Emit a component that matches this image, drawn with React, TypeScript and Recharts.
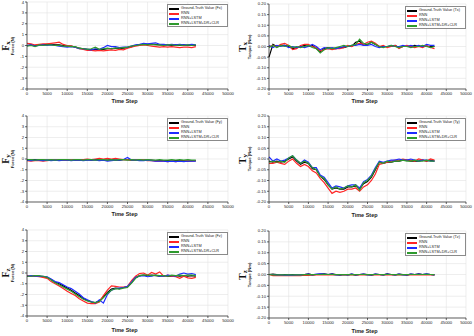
import React from 'react';
import { LineChart, Line, XAxis, YAxis, CartesianGrid } from 'recharts';

const STEPS = [
  0, 1000, 2000, 3000, 4000, 5000, 6000, 7000, 8000, 9000,
  10000, 11000, 12000, 13000, 14000, 15000, 16000, 17000, 18000, 19000,
  20000, 21000, 22000, 23000, 24000, 25000, 26000, 27000, 28000, 29000,
  30000, 31000, 32000, 33000, 34000, 35000, 36000, 37000, 38000, 39000,
  40000, 41000, 42000,
];

const X_TICKS = [0, 5000, 10000, 15000, 20000, 25000, 30000, 35000, 40000, 45000, 50000];
const FORCE_TICKS = [-4, -3, -2, -1, 0, 1, 2, 3, 4];
const TORQUE_TICKS = [-0.2, -0.15, -0.1, -0.05, 0, 0.05, 0.1, 0.15, 0.2];

const SERIES_KEYS = ['gt', 'rnn', 'lstm', 'full'];
const SERIES_NAMES = ['Ground-Truth Value', 'RNN', 'RNN+LSTM', 'RNN+LSTM+DR+CLR'];
const COLORS = ['#000000', '#ff2626', '#1f2cff', '#2e9a2e'];

// Fx (N)
const FX_GT = [
  0, 0.05, 0, 0.05, 0.05, 0.1, 0.1, 0.05, 0.05, 0,
  -0.05, -0.05, -0.15, -0.25, -0.3, -0.35, -0.4, -0.35, -0.4, -0.35,
  -0.3, -0.3, -0.25, -0.3, -0.25, -0.2, -0.1, 0, 0.05, 0.1,
  0.1, 0.1, 0.1, 0.05, 0.05, 0.05, 0, 0.05, 0, 0.05,
  0, 0.05, 0,
];
const FX_RNN = [
  0.2, 0.15, 0.05, 0.1, 0.15, 0.15, 0.2, 0.25, 0.3, 0.1,
  0, -0.05, -0.15, -0.3, -0.35, -0.45, -0.45, -0.5, -0.45, -0.5,
  -0.45, -0.4, -0.45, -0.35, -0.4, -0.25, -0.15, -0.05, 0, 0.05,
  0, -0.05, -0.1, -0.15, -0.1, -0.15, -0.1, -0.15, -0.2, -0.15,
  -0.15, -0.2, -0.1,
];
const FX_LSTM = [
  0, 0.05, -0.05, 0, 0.05, 0, 0.05, 0, -0.05, -0.1,
  -0.15, -0.1, -0.15, -0.3, -0.3, -0.35, -0.4, -0.3, -0.35, -0.2,
  0, -0.1, -0.1, -0.2, -0.15, -0.15, -0.05, 0.05, 0.1, 0.2,
  0.15, 0.2, 0.25, 0.1, 0.1, 0.05, 0.1, 0.05, 0.1, 0.05,
  0.05, 0.1, 0.05,
];
const FX_FULL = [
  -0.05, 0, -0.1, 0.05, 0, 0.05, 0.05, 0, 0, -0.05,
  -0.05, -0.1, -0.1, -0.25, -0.3, -0.35, -0.3, -0.15, -0.35, -0.3,
  -0.25, -0.3, -0.25, -0.25, -0.2, -0.15, -0.05, 0, 0.05, 0.1,
  0.05, 0.1, 0.05, 0.05, 0, 0.05, 0.05, 0, 0.05, 0,
  0.05, 0, 0.05,
];

// Tx (Nm)
const TX_GT = [
  -0.05, 0.01, 0, 0.005, 0.005, 0, -0.01, -0.005, 0, 0.005,
  0, 0.005, -0.01, -0.025, -0.01, -0.005, -0.01, -0.01, -0.005, -0.005,
  0, 0, 0.02, 0.025, 0.005, 0.01, 0.02, 0.01, 0, 0,
  0, 0, 0.005, -0.005, 0, 0, 0, 0.005, 0, 0,
  0, 0, 0,
];
const TX_RNN = [
  0, 0.005, 0, 0.01, 0.015, 0.005, -0.015, -0.01, 0.005, 0.01,
  0.01, 0, -0.005, -0.02, -0.015, -0.01, -0.015, -0.01, -0.01, -0.005,
  0.005, 0, 0.01, 0.015, 0.01, 0.02, 0.025, 0.015, 0, 0.005,
  -0.005, 0, 0.005, -0.01, 0, 0.005, 0, -0.005, 0, -0.005,
  0.005, -0.005, -0.01,
];
const TX_LSTM = [
  0.005, -0.005, 0.005, 0, 0.005, -0.005, 0, -0.005, 0, -0.005,
  0, 0.01, 0, -0.015, -0.005, -0.01, -0.005, -0.01, -0.005, 0,
  0, 0.005, 0.005, 0.01, 0.005, 0.005, 0.01, 0, -0.005, 0,
  0, 0.005, 0, 0, 0.005, 0, 0.005, 0, 0.005, 0,
  0.01, 0.005, 0.005,
];
const TX_FULL = [
  -0.005, 0.005, -0.005, 0.005, 0, 0.005, -0.005, 0, -0.005, 0,
  0.005, -0.005, -0.01, -0.03, -0.015, -0.005, -0.01, -0.005, 0, 0.005,
  0, 0.005, 0.01, 0.035, 0.015, 0.01, 0.02, 0.01, 0, -0.005,
  0, 0.005, 0, -0.005, 0, 0, -0.005, 0, 0, 0.005,
  0, -0.005, 0,
];

// Fy (N)
const FY_GT = [
  -0.1, -0.1, -0.05, -0.1, -0.1, -0.1, -0.1, -0.1, -0.1, -0.05,
  -0.1, -0.1, -0.1, -0.1, -0.1, -0.05, -0.1, -0.05, -0.05, -0.1,
  -0.1, -0.05, -0.1, -0.1, -0.05, -0.05, -0.1, -0.1, -0.1, -0.1,
  -0.1, -0.1, -0.15, -0.15, -0.15, -0.15, -0.2, -0.15, -0.15, -0.15,
  -0.2, -0.15, -0.15,
];
const FY_RNN = [
  -0.15, -0.2, -0.15, -0.15, -0.2, -0.15, -0.1, -0.1, -0.1, -0.1,
  -0.1, -0.1, -0.05, -0.05, -0.05, 0, -0.05, 0, 0.05, 0,
  0.05, 0, 0.05, 0, -0.05, -0.05, -0.1, -0.1, -0.1, -0.1,
  -0.15, -0.15, -0.2, -0.2, -0.2, -0.25, -0.2, -0.25, -0.2, -0.2,
  -0.15, -0.2, -0.15,
];
const FY_LSTM = [
  -0.1, -0.15, -0.1, -0.1, -0.15, -0.1, -0.15, -0.1, -0.15, -0.1,
  -0.1, -0.15, -0.1, -0.1, -0.15, -0.1, -0.1, -0.1, -0.15, -0.1,
  -0.2, -0.15, -0.1, -0.1, -0.05, 0.15, -0.1, -0.1, -0.15, -0.15,
  -0.1, -0.15, -0.2, -0.2, -0.2, -0.25, -0.2, -0.25, -0.2, -0.25,
  -0.2, -0.2, -0.2,
];
const FY_FULL = [
  -0.05, -0.05, -0.1, -0.05, -0.05, -0.1, -0.05, -0.1, -0.05, -0.05,
  -0.05, -0.1, -0.05, -0.05, -0.1, -0.05, -0.05, -0.1, -0.05, -0.05,
  -0.1, -0.05, -0.1, -0.05, -0.05, -0.1, -0.05, -0.1, -0.05, -0.1,
  -0.05, -0.1, -0.1, -0.05, -0.1, -0.1, -0.05, -0.1, -0.05, -0.1,
  -0.05, -0.1, -0.1,
];

// Ty (Nm)
const TY_GT = [
  -0.01, -0.015, -0.01, -0.015, -0.01, 0, 0.01, -0.01, -0.025, -0.015,
  -0.02, -0.045, -0.05, -0.08, -0.095, -0.12, -0.14, -0.135, -0.14, -0.14,
  -0.13, -0.13, -0.125, -0.14, -0.115, -0.105, -0.085, -0.05, -0.015, -0.02,
  -0.015, -0.015, -0.01, -0.01, -0.005, -0.005, -0.01, -0.01, -0.01, -0.005,
  -0.01, -0.005, -0.01,
];
const TY_RNN = [
  -0.02, -0.02, -0.015, -0.02, -0.025, -0.01, 0, -0.02, -0.035, -0.025,
  -0.035, -0.055, -0.065, -0.09, -0.11, -0.135, -0.16, -0.15, -0.155, -0.15,
  -0.14, -0.14, -0.135, -0.15, -0.13, -0.12, -0.1, -0.07, -0.025, -0.02,
  -0.015, -0.01, -0.005, -0.005, 0, -0.005, -0.005, -0.01, 0, -0.005,
  -0.01, 0, -0.005,
];
const TY_LSTM = [
  0.01, -0.01, 0, -0.01, -0.005, 0.005, 0.015, -0.005, -0.02, -0.005,
  -0.015, -0.04, -0.04, -0.075, -0.085, -0.11, -0.135, -0.125, -0.13, -0.135,
  -0.125, -0.12, -0.12, -0.135, -0.105, -0.095, -0.075, -0.04, -0.01, -0.015,
  -0.01, -0.005, -0.005, 0, -0.005, -0.005, 0, -0.005, -0.01, -0.005,
  -0.005, -0.01, -0.01,
];
const TY_FULL = [
  -0.015, -0.01, -0.015, -0.01, -0.015, 0.005, 0.015, -0.005, -0.02, -0.01,
  -0.02, -0.04, -0.05, -0.08, -0.09, -0.12, -0.14, -0.13, -0.14, -0.135,
  -0.125, -0.13, -0.12, -0.145, -0.11, -0.1, -0.08, -0.045, -0.015, -0.02,
  -0.01, -0.015, -0.01, -0.01, -0.005, -0.01, -0.01, -0.005, -0.01, -0.01,
  -0.005, -0.01, -0.01,
];

// Fz (N)
const FZ_GT = [
  -0.3, -0.3, -0.25, -0.3, -0.35, -0.4, -0.6, -0.85, -1, -1.2,
  -1.4, -1.6, -1.85, -2.1, -2.35, -2.55, -2.7, -2.75, -2.6, -2.2,
  -1.8, -1.5, -1.4, -1.45, -1.35, -1.3, -0.9, -0.45, -0.25, -0.2,
  -0.25, -0.2, -0.25, -0.3, -0.25, -0.3, -0.3, -0.25, -0.3, -0.25,
  -0.3, -0.25, -0.3,
];
const FZ_RNN = [
  -0.25, -0.3, -0.3, -0.35, -0.4, -0.5, -0.8, -1, -1.2, -1.45,
  -1.7, -1.9, -2.1, -2.4, -2.6, -2.8, -2.85, -2.85, -2.7, -2.1,
  -1.6, -1.2, -1.25, -1.3, -1.3, -1.25, -0.7, -0.3, -0.05, 0,
  -0.2, 0.05, -0.1, 0.1, -0.3, -0.2, -0.3, -0.35, -0.5, -0.3,
  -0.45, -0.5, -0.4,
];
const FZ_LSTM = [
  -0.3, -0.25, -0.3, -0.3, -0.3, -0.35, -0.55, -0.8, -0.9, -1.1,
  -1.3, -1.45, -1.7, -1.95, -2.3, -2.5, -2.65, -2.8, -2.5, -2.8,
  -2, -1.6, -1.45, -1.4, -1.35, -1.25, -0.85, -0.4, -0.3, -0.25,
  -0.35, -0.3, -0.2, -0.3, -0.3, -0.2, -0.25, -0.3, -0.1, 0,
  -0.1, -0.05, -0.15,
];
const FZ_FULL = [
  -0.3, -0.3, -0.25, -0.25, -0.3, -0.4, -0.65, -0.9, -1.1, -1.3,
  -1.5, -1.7, -1.95, -2.2, -2.45, -2.6, -2.7, -2.75, -2.65, -2.3,
  -1.9, -1.6, -1.45, -1.5, -1.4, -1.35, -0.95, -0.5, -0.25, -0.2,
  -0.2, -0.25, -0.2, -0.25, -0.25, -0.3, -0.2, -0.25, -0.2, -0.25,
  -0.2, -0.2, -0.25,
];

// Tz (Nm)
const TZ_GT = [
  0, 0.002, 0, -0.003, 0, -0.002, 0, -0.003, -0.002, 0,
  0.003, -0.002, 0, 0.002, 0.003, 0, 0.003, 0, -0.003, 0,
  -0.002, 0.002, -0.003, 0, 0.002, 0, -0.003, 0.002, 0, -0.002,
  0.003, 0, -0.002, 0.002, 0, -0.003, 0.002, 0, 0.003, 0,
  0.002, 0, -0.002,
];
const TZ_RNN = [
  0, -0.005, -0.005, -0.004, -0.005, -0.004, -0.005, -0.004, -0.005, -0.003,
  -0.004, -0.003, -0.002, -0.002, -0.002, -0.001, -0.002, -0.001, -0.002, -0.001,
  -0.002, -0.001, -0.002, -0.001, -0.002, -0.001, -0.002, -0.001, -0.002, -0.001,
  -0.002, -0.001, -0.002, -0.001, -0.002, -0.001, -0.002, -0.001, -0.002, -0.001,
  -0.002, -0.001, -0.002,
];
const TZ_LSTM = [
  0, 0, -0.002, -0.002, -0.003, -0.002, -0.003, -0.002, -0.002, 0,
  0.002, -0.002, 0.002, 0.003, 0.002, 0, 0.002, -0.002, -0.002, 0,
  -0.002, 0.002, -0.002, 0, 0.002, -0.002, -0.002, 0.002, 0, -0.002,
  0.002, 0, -0.002, 0.002, -0.002, -0.002, 0.002, 0, 0.002, 0,
  0.003, 0, -0.002,
];
const TZ_FULL = [
  0, -0.002, -0.002, -0.002, -0.002, -0.002, -0.002, -0.002, -0.002, -0.001,
  0, -0.001, 0, 0, 0.001, 0, 0, -0.001, -0.001, 0,
  -0.001, 0, -0.001, 0, 0, -0.001, -0.001, 0, 0, -0.001,
  0, 0, -0.001, 0, -0.001, -0.001, 0, 0, 0, 0,
  0.001, 0, -0.001,
];

const buildRows = (gt: number[], rnn: number[], lstm: number[], full: number[]) =>
  STEPS.map((step, i) => ({ step, gt: gt[i], rnn: rnn[i], lstm: lstm[i], full: full[i] }));

const SANS = "'Liberation Sans', Arial, sans-serif";
const SERIF = "'Liberation Serif', 'Times New Roman', serif";

const fmtForce = (v: number) => String(Math.round(v));
const fmtTorque = (v: number) => v.toFixed(2);

type PanelProps = {
  left: number;
  top: number;
  plotTop: number;
  plotBottom: number;
  axisW: number;
  plotRight: number;
  rows: any[];
  domain: [number, number];
  ticks: number[];
  fmt: (v: number) => string;
  sub: string;
  sym: string;
  unit: string;
  timeY: number;
};

const W = 237;
const H = 112;
const X_AXIS_H = 10;

const Panel = ({ left, top, plotTop, plotBottom, axisW, plotRight, rows, domain, ticks, fmt, sym, sub, unit, timeY }: PanelProps) => {
  const margin = { top: plotTop, right: W - plotRight, bottom: H - plotBottom - X_AXIS_H, left: 0 };
  const midY = (plotTop + plotBottom) / 2;
  const midX = (axisW + plotRight) / 2 - 3;
  return (
    <div style={{ position: 'absolute', left, top, width: W, height: H }}>
      <LineChart width={W} height={H} data={rows} margin={margin}>
        <CartesianGrid stroke="#e2e2e2" strokeWidth={0.6} />
        <XAxis
          dataKey="step"
          type="number"
          domain={[0, 50000]}
          ticks={X_TICKS}
          interval={0}
          height={X_AXIS_H}
          tick={{ fontSize: 4.2, fill: '#222', fontFamily: SANS }}
          tickSize={2}
          tickMargin={1}
          stroke="#222"
          strokeWidth={0.7}
        />
        <YAxis
          type="number"
          domain={domain}
          ticks={ticks}
          interval={0}
          width={axisW}
          tickFormatter={fmt}
          tick={{ fontSize: 4.2, fill: '#222', fontFamily: SANS }}
          tickSize={2}
          tickMargin={1}
          stroke="#222"
          strokeWidth={0.7}
          allowDataOverflow
        />
        {SERIES_KEYS.map((k, i) => (
          <Line
            key={k}
            type="linear"
            dataKey={k}
            stroke={COLORS[i]}
            strokeWidth={1.2}
            dot={false}
            isAnimationActive={false}
          />
        ))}
      </LineChart>

      {/* legend box, top right of the plot */}
      <div
        style={{
          position: 'absolute',
          left: plotRight - 61,
          top: plotTop + 2,
          width: 61,
          height: 23,
          boxSizing: 'border-box',
          border: '0.5px solid #8a8a8a',
          background: '#fff',
          padding: '1.5px 1px',
        }}
      >
        {SERIES_NAMES.map((name, i) => (
          <div key={name} style={{ display: 'flex', alignItems: 'center', height: 5 }}>
            <div style={{ width: 10, height: 1.4, background: COLORS[i], marginRight: 2 }} />
            <span style={{ fontSize: 3.8, fontFamily: SANS, color: '#222', whiteSpace: 'nowrap', lineHeight: 1 }}>
              {i === 0 ? `${name} (${sym}${sub})` : name}
            </span>
          </div>
        ))}
      </div>

      <div
        style={{
          position: 'absolute',
          left: 6,
          top: midY,
          transform: 'translate(-50%, -50%) rotate(-90deg)',
          fontFamily: SERIF,
          fontWeight: 'bold',
          fontSize: 10,
          lineHeight: 1,
          whiteSpace: 'nowrap',
          color: '#111',
        }}
      >
        {sym}
        <span style={{ fontSize: 7, position: 'relative', top: 1 }}>{sub}</span>
      </div>
      <div
        style={{
          position: 'absolute',
          left: 12.5,
          top: midY,
          transform: 'translate(-50%, -50%) rotate(-90deg)',
          fontFamily: SANS,
          fontWeight: 'bold',
          fontSize: 4.2,
          lineHeight: 1,
          whiteSpace: 'nowrap',
          color: '#222',
        }}
      >
        {unit}
      </div>
      <div
        style={{
          position: 'absolute',
          left: midX,
          top: timeY,
          transform: 'translate(-50%, -50%)',
          fontFamily: SANS,
          fontWeight: 'bold',
          fontSize: 5.5,
          lineHeight: 1,
          whiteSpace: 'nowrap',
          color: '#222',
        }}
      >
        Time Step
      </div>
    </div>
  );
};

const App = () => {
  return (
    <div style={{ position: 'absolute', left: 0, top: 0, width: 474, height: 336, background: '#fff', overflow: 'hidden' }}>
      <Panel left={0} top={0} plotTop={2} plotBottom={89} axisW={27} plotRight={228}
        rows={buildRows(FX_GT, FX_RNN, FX_LSTM, FX_FULL)} domain={[-4, 4]} ticks={FORCE_TICKS} fmt={fmtForce}
        sym="F" sub="x" unit="Force (N)" timeY={102} />
      <Panel left={237} top={0} plotTop={4} plotBottom={89} axisW={32} plotRight={229}
        rows={buildRows(TX_GT, TX_RNN, TX_LSTM, TX_FULL)} domain={[-0.2, 0.2]} ticks={TORQUE_TICKS} fmt={fmtTorque}
        sym="T" sub="x" unit="Torque (Nm)" timeY={102} />
      <Panel left={0} top={112} plotTop={4} plotBottom={90} axisW={27} plotRight={228}
        rows={buildRows(FY_GT, FY_RNN, FY_LSTM, FY_FULL)} domain={[-4, 4]} ticks={FORCE_TICKS} fmt={fmtForce}
        sym="F" sub="y" unit="Force (N)" timeY={103} />
      <Panel left={237} top={112} plotTop={4} plotBottom={90} axisW={32} plotRight={229}
        rows={buildRows(TY_GT, TY_RNN, TY_LSTM, TY_FULL)} domain={[-0.2, 0.2]} ticks={TORQUE_TICKS} fmt={fmtTorque}
        sym="T" sub="y" unit="Torque (Nm)" timeY={104} />
      <Panel left={0} top={224} plotTop={6} plotBottom={92} axisW={27} plotRight={228}
        rows={buildRows(FZ_GT, FZ_RNN, FZ_LSTM, FZ_FULL)} domain={[-4, 4]} ticks={FORCE_TICKS} fmt={fmtForce}
        sym="F" sub="z" unit="Force (N)" timeY={107} />
      <Panel left={237} top={224} plotTop={7} plotBottom={94} axisW={32} plotRight={229}
        rows={buildRows(TZ_GT, TZ_RNN, TZ_LSTM, TZ_FULL)} domain={[-0.2, 0.2]} ticks={TORQUE_TICKS} fmt={fmtTorque}
        sym="T" sub="z" unit="Torque (Nm)" timeY={108} />
    </div>
  );
};

export default App;
